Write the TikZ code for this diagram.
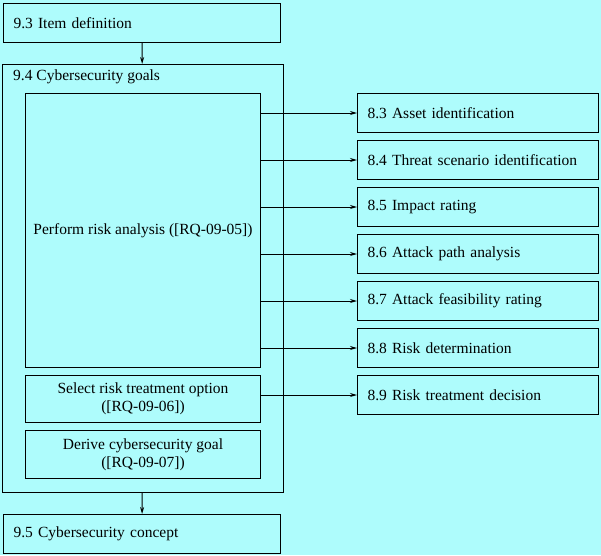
\documentclass[tikz,border=0pt]{standalone}
\usepackage{fontspec}
\setmainfont{Liberation Serif}
\usetikzlibrary{arrows.meta,positioning}
\definecolor{PaleCyan}{RGB}{174,252,252}

\begin{document}
\begin{tikzpicture}[x=1pt,y=-1pt,
	box/.style={draw,fill=PaleCyan,line width=1pt,inner sep=0pt,anchor=north west,
		font=\fontsize{15.5}{18}\selectfont},
	leftbox/.style={box,minimum height=39pt,text width=#1,inner xsep=10pt,align=left},
	midbox/.style={box,minimum width=235pt,align=center},
	flow/.style={-{Stealth[length=7pt,width=4pt]},line width=1pt}]

	% page and background
	\fill[PaleCyan] (0,0) rectangle (601,555);
	\useasboundingbox (0,0) rectangle (601,555);

	% left column
	\node[leftbox=257pt] (item) at (3,3) {9.3 Item definition};
	\node[box,minimum width=281pt,minimum height=428pt] (goals) at (2,64) {};
	\node[anchor=north west,inner sep=0pt,font=\fontsize{15.5}{18}\selectfont] (goalstitle) at (13,70) {9.4 Cybersecurity goals};
	\node[midbox,minimum height=274pt] (perform) at (25,93) {Perform risk analysis ([RQ-09-05])};
	\node[midbox,minimum height=47pt] (select) at (25,375) {Select risk treatment option\\([RQ-09-06])};
	\node[midbox,minimum height=48pt] (derive) at (25,430) {Derive cybersecurity goal\\([RQ-09-07])};
	\node[leftbox=257pt] (concept) at (3,514) {9.5 Cybersecurity concept};

	% right column, one box every 47pt
	\foreach \name/\txt [count=\i from 0] in {asset/8.3 Asset identification,
		threat/8.4 Threat scenario identification,
		impact/8.5 Impact rating,
		attack/8.6 Attack path analysis,
		feasib/8.7 Attack feasibility rating,
		riskdet/8.8 Risk determination,
		treat/8.9 Risk treatment decision}
		\node[leftbox=221pt] (\name) at (357,93+47*\i) {\txt};

	% connectors
	\draw[flow] (item) -- (goals);
	\draw[flow] (goals) -- (concept);
	\foreach \name in {asset,threat,impact,attack,feasib,riskdet}
		\draw[flow] (perform.east |- \name.west) -- (\name.west);
	\draw[flow] (select.east |- treat.west) -- (treat.west);
\end{tikzpicture}
\end{document}
